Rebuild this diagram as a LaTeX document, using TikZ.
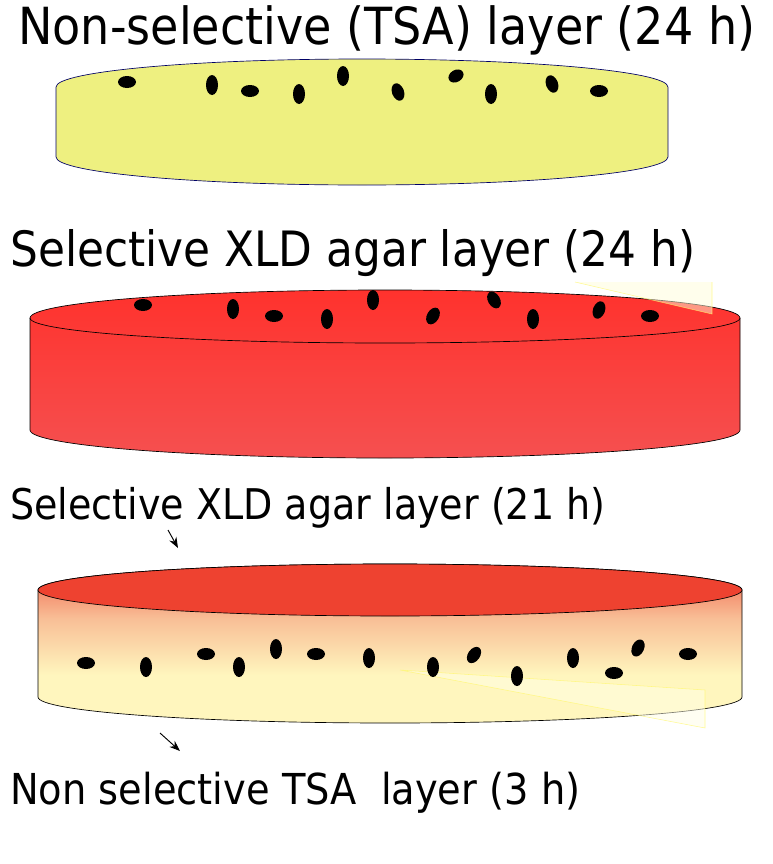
\documentclass[tikz,border=0pt]{standalone}
\usepackage{fontspec}
\setmainfont{DejaVu Sans Condensed}
\usetikzlibrary{arrows.meta}
\definecolor{tsa}{RGB}{238,240,128}
\definecolor{xldtop}{RGB}{255,50,45}
\definecolor{xldbot}{RGB}{245,80,80}
\definecolor{red3}{RGB}{238,66,48}
\definecolor{pale}{RGB}{255,246,190}
\definecolor{mid3}{RGB}{248,190,150}
\pgfdeclareverticalshading{sh3}{100bp}{color(0bp)=(pale); color(40bp)=(pale); color(58bp)=(mid3); color(80bp)=(red3); color(100bp)=(red3)}
\begin{document}
\begin{tikzpicture}[x=0.75pt,y=-0.75pt,
  lbl/.style={anchor=west,inner sep=0pt},
  rim/.style={draw=black,line width=0.5pt},
  arr/.style={-{Stealth[length=8pt,width=6pt]},line width=0.7pt}]
\useasboundingbox (0,0) rectangle (772,864);
% ---- plate 1
\fill[tsa,draw=blue!40!black,line width=0.5pt] (56,87) -- (56,157) arc[start angle=180,end angle=0,x radius=306,y radius=28] -- (668,87) arc[start angle=0,end angle=-180,x radius=306,y radius=28] -- cycle;
\foreach \x/\y/\a/\b/\r in {127/82/9/6/0,212/85/6/10/0,250/91/9/6/0,299/94/6/10/0,343/76/6/10/0,398/92/6/9/20,456/76/8/6/30,491/94/6/10/0,552/84/6/9/20,599/91/9/6/0}
  \fill[black,rotate around={\r:(\x,\y)}] (\x,\y) ellipse[x radius=\a,y radius=\b];
% ---- plate 2
\shade[top color=xldtop,bottom color=xldbot] (30,318) -- (30,430) arc[start angle=180,end angle=0,x radius=355,y radius=28] -- (740,318) arc[start angle=0,end angle=-180,x radius=355,y radius=28] -- cycle;
\draw[rim] (30,318) -- (30,430) arc[start angle=180,end angle=0,x radius=355,y radius=28] -- (740,318) arc[start angle=0,end angle=-180,x radius=355,y radius=28] -- cycle;
\draw[rim] (30,318) arc[start angle=180,end angle=0,x radius=355,y radius=25];
\fill[yellow!15,opacity=0.5] (575,282) -- (712,282) -- (712,314) -- cycle;
\draw[yellow!60,line width=0.4pt,opacity=0.7] (575,282) -- (712,314) -- (712,282);
\foreach \x/\y/\a/\b/\r in {143/305/9/6/0,233/309/6/10/0,274/316/9/6/0,327/319/6/10/0,373/300/6/10/0,433/316/6/9/-30,494/300/6/9/30,533/319/6/10/0,599/310/6/9/-20,650/316/9/6/0}
  \fill[black,rotate around={\r:(\x,\y)}] (\x,\y) ellipse[x radius=\a,y radius=\b];
% ---- plate 3
\shade[shading=sh3] (38,590) -- (38,697) arc[start angle=180,end angle=0,x radius=352,y radius=26] -- (742,590) arc[start angle=0,end angle=-180,x radius=352,y radius=26] -- cycle;
\draw[rim] (38,590) -- (38,697) arc[start angle=180,end angle=0,x radius=352,y radius=26] -- (742,590) arc[start angle=0,end angle=-180,x radius=352,y radius=26] -- cycle;
\fill[red3,rim] (390,590) ellipse[x radius=352,y radius=26];
\fill[yellow!10,opacity=0.5] (400,670) -- (705,690) -- (705,728) -- cycle;
\draw[yellow!60,line width=0.4pt,opacity=0.7] (400,670) -- (705,690) -- (705,728) -- cycle;
\foreach \x/\y/\a/\b/\r in {86/663/9/6/0,146/667/6/10/0,206/654/9/6/0,239/667/6/10/0,276/649/6/10/0,316/654/9/6/0,369/658/6/10/0,433/667/6/10/0,474/655/6/9/-35,517/676/6/10/0,573/658/6/10/0,614/673/9/6/0,638/648/6/9/-25,688/654/9/6/0}
  \fill[black,rotate around={\r:(\x,\y)}] (\x,\y) ellipse[x radius=\a,y radius=\b];
% ---- labels
\node[lbl] (l1) at (18,30) {\resizebox{552.75pt}{!}{Non-selective (TSA) layer (24 h)}};
\node[lbl] (l2) at (10,253) {\resizebox{513.75pt}{!}{Selective XLD agar layer (24 h)}};
\node[lbl] (l3) at (10,508) {\resizebox{446.25pt}{!}{Selective XLD agar layer (21 h)}};
\node[lbl] (l4) at (10,793) {\resizebox{427.5pt}{!}{Non selective TSA\ \ layer (3 h)}};
% ---- arrows
\coordinate (a1s) at (168,530); \coordinate (a1e) at (178,548);
\coordinate (a2s) at (160,733); \coordinate (a2e) at (180,751);
\draw[arr] (a1s) -- (a1e);
\draw[arr] (a2s) -- (a2e);
\end{tikzpicture}
\end{document}
